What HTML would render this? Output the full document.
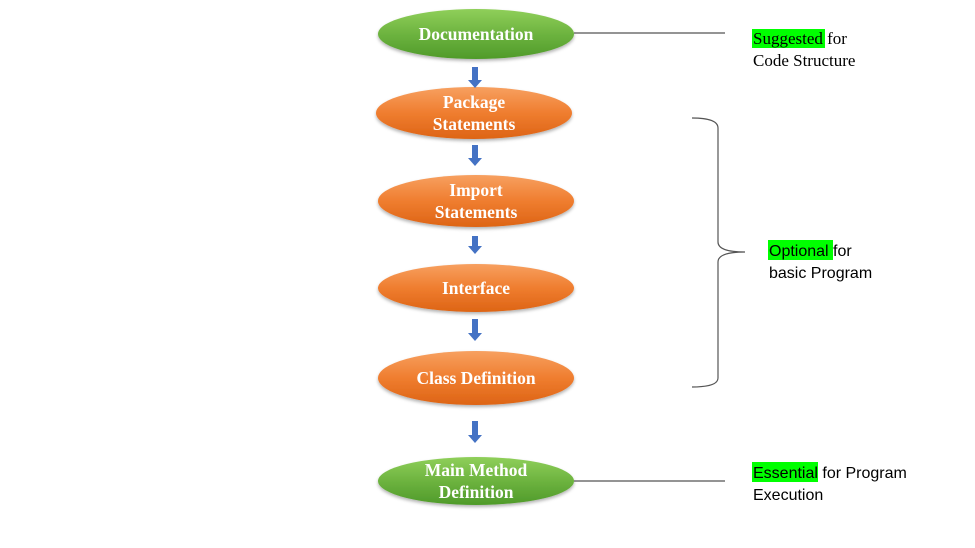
<!DOCTYPE html>
<html><head><meta charset="utf-8"><style>
html,body{margin:0;padding:0;background:#fff;width:975px;height:548px;overflow:hidden}
</style></head><body>
<svg width="975" height="548" viewBox="0 0 975 548" xmlns="http://www.w3.org/2000/svg">
<defs>
<linearGradient id="g" x1="0" y1="0" x2="0" y2="1">
<stop offset="0" stop-color="#8fcf5a"/><stop offset="0.5" stop-color="#6db33f"/><stop offset="1" stop-color="#4f9a2a"/></linearGradient>
<linearGradient id="o" x1="0" y1="0" x2="0" y2="1">
<stop offset="0" stop-color="#f7a060"/><stop offset="0.5" stop-color="#ef7d2f"/><stop offset="1" stop-color="#dd6415"/></linearGradient>
<filter id="s" x="-10%" y="-20%" width="120%" height="150%"><feDropShadow dx="0" dy="2" stdDeviation="1.5" flood-opacity="0.3"/></filter>
</defs>
<g filter="url(#s)">
<ellipse cx="476" cy="34" rx="98" ry="25" fill="url(#g)"/>
<ellipse cx="474" cy="113" rx="98" ry="26" fill="url(#o)"/>
<ellipse cx="476" cy="201" rx="98" ry="26" fill="url(#o)"/>
<ellipse cx="476" cy="288" rx="98" ry="24" fill="url(#o)"/>
<ellipse cx="476" cy="378" rx="98" ry="27" fill="url(#o)"/>
<ellipse cx="476" cy="481" rx="98" ry="24" fill="url(#g)"/>
</g>
<g font-family="Liberation Serif, serif" font-weight="bold" font-size="17.5" fill="#fff" text-anchor="middle">
<text x="476" y="40">Documentation</text>
<text x="474" y="108">Package</text><text x="474" y="130">Statements</text>
<text x="476" y="196">Import</text><text x="476" y="218">Statements</text>
<text x="476" y="294">Interface</text>
<text x="476" y="384">Class Definition</text>
<text x="476" y="476">Main Method</text><text x="476" y="498">Definition</text>
</g>
<g fill="#4472c4">
<path d="M472,67h6v13h4l-7,8l-7,-8h4z"/>
<path d="M472,145h6v13h4l-7,8l-7,-8h4z"/>
<path d="M472,236h6v10h4l-7,8l-7,-8h4z"/>
<path d="M472,319h6v14h4l-7,8l-7,-8h4z"/>
<path d="M472,421h6v14h4l-7,8l-7,-8h4z"/>
</g>
<g stroke="#555" stroke-width="1.2" fill="none">
<line x1="574" y1="33" x2="725" y2="33"/>
<line x1="574" y1="481" x2="725" y2="481"/>
<path d="M692,118 Q718,118 718,128 V242 Q718,252 745,252 Q718,252 718,262 V378 Q718,387 692,387"/>
</g>
<rect x="752" y="29" width="73" height="19" fill="#00ff00"/>
<rect x="768" y="240" width="65" height="20" fill="#00ff00"/>
<rect x="752" y="462" width="66" height="20" fill="#00ff00"/>
<g font-family="Liberation Serif, serif" font-size="17" fill="#000">
<text x="753" y="44">Suggested  for</text>
<text x="753" y="66">Code Structure</text>
</g>
<g font-family="Liberation Sans, sans-serif" font-size="16" fill="#000">
<text x="769" y="256">Optional for</text>
<text x="769" y="278">basic Program</text>
<text x="753" y="478">Essential for Program</text>
<text x="753" y="500">Execution</text>
</g>
</svg>
</body></html>
